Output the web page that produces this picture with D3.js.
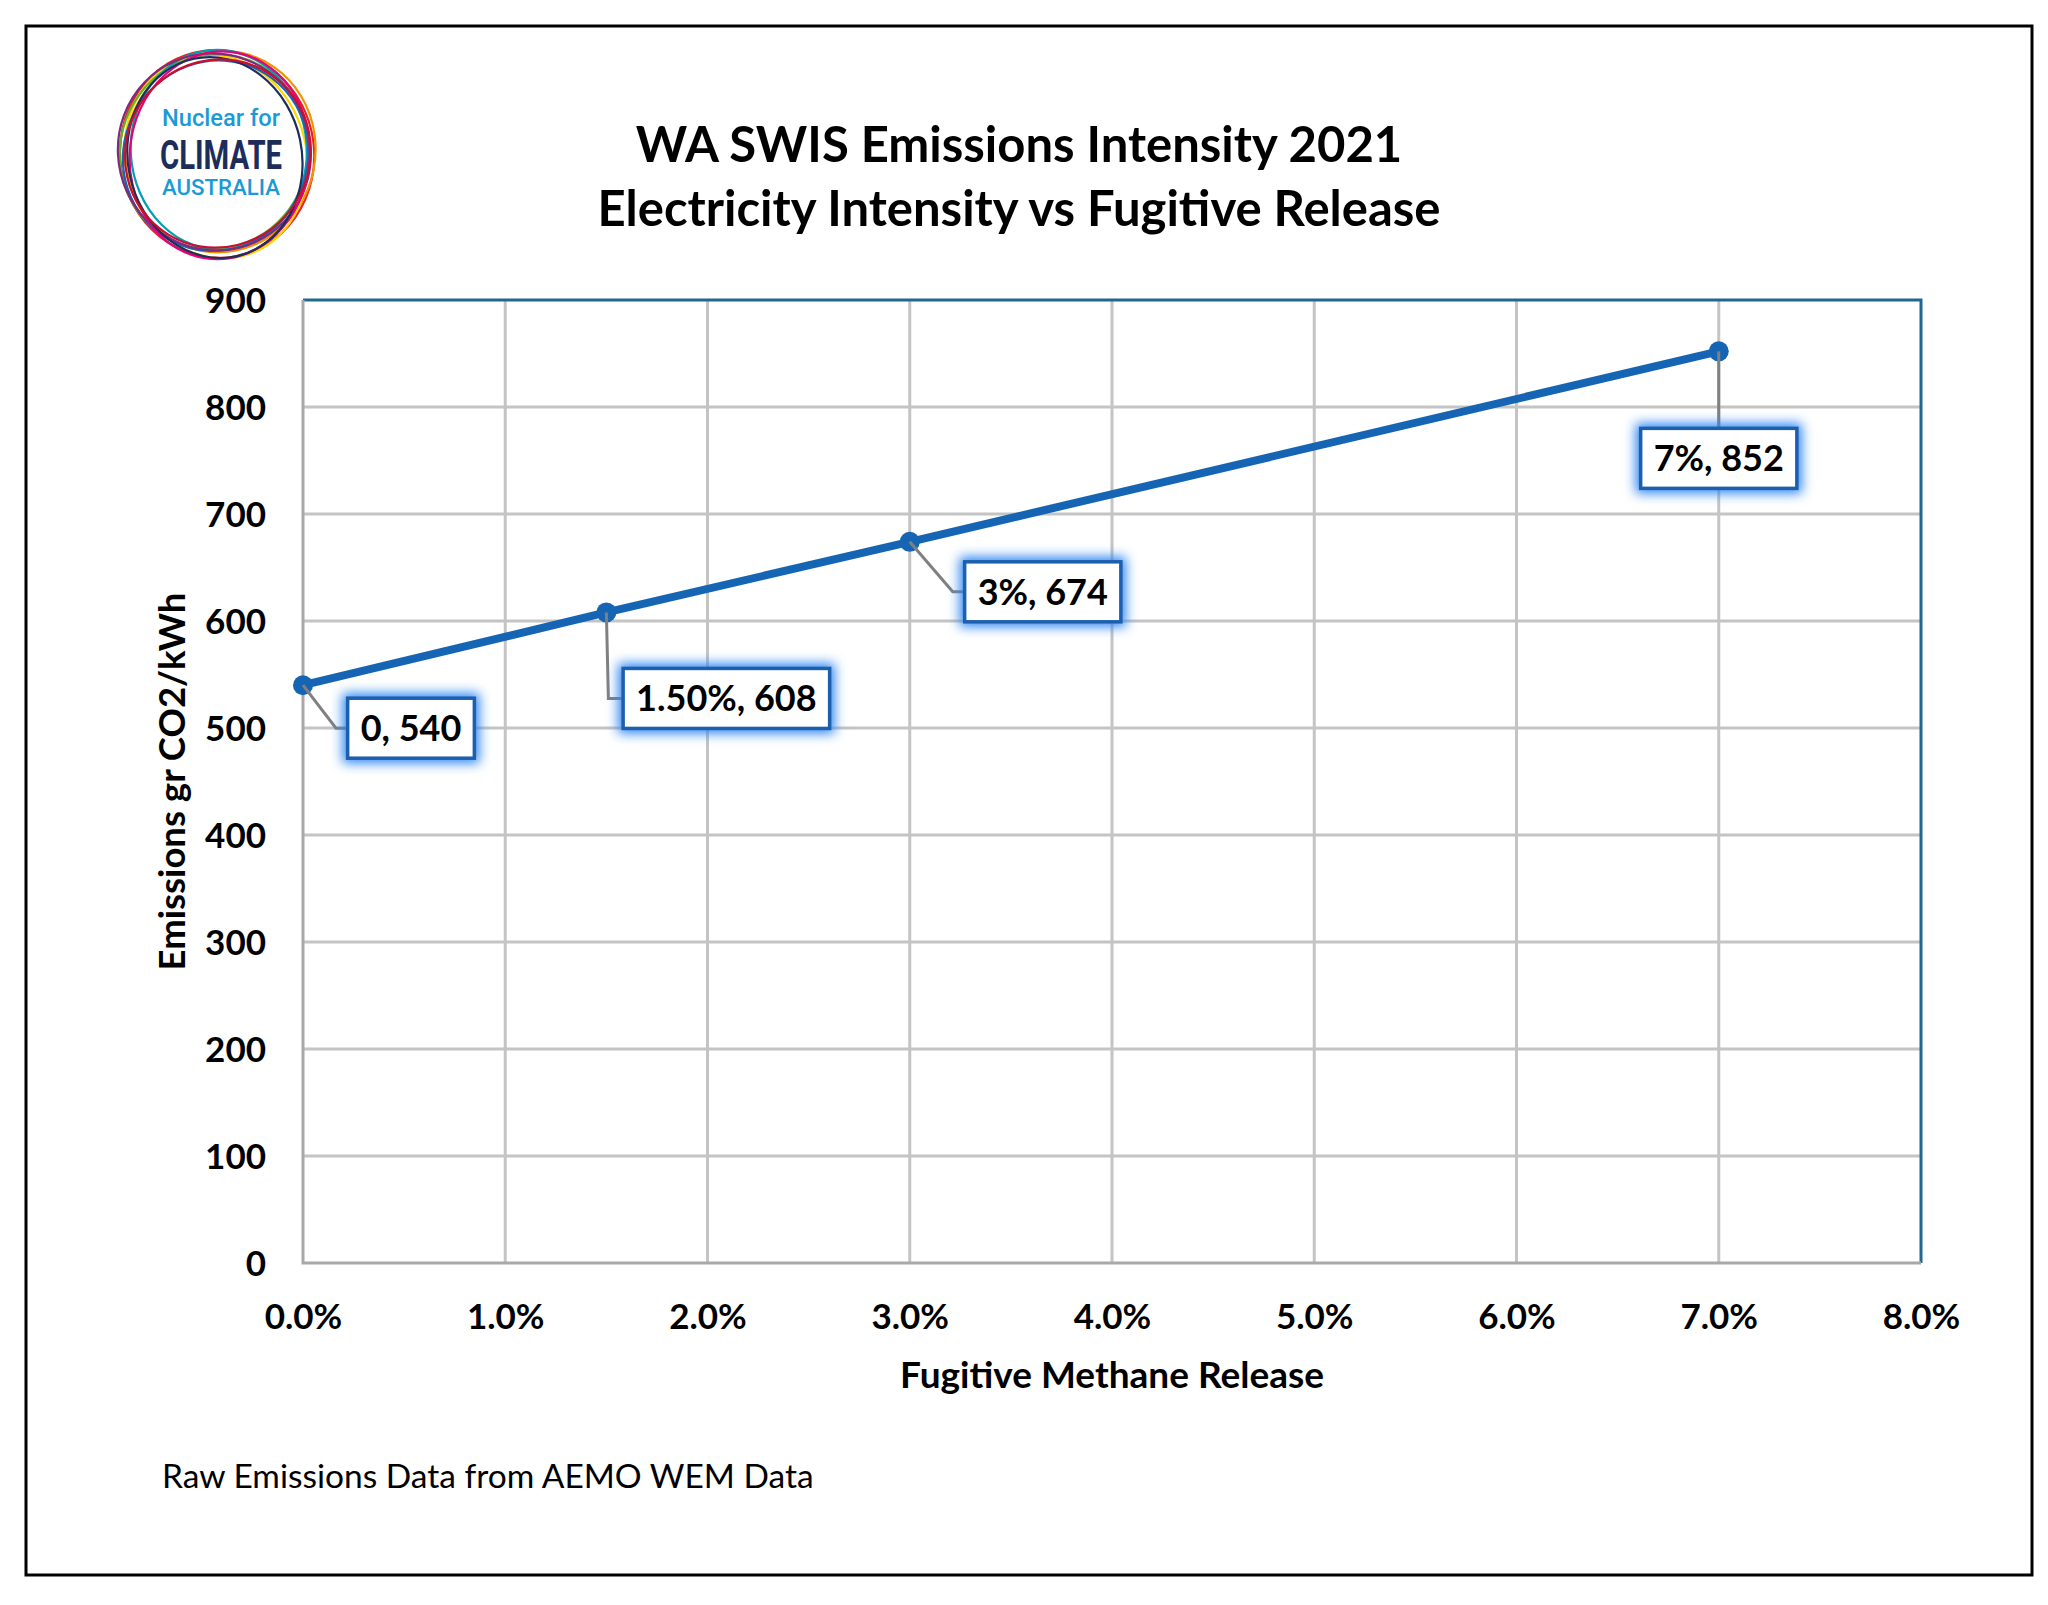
<!DOCTYPE html>
<html>
<head>
<meta charset="utf-8">
<script src="https://cdn.jsdelivr.net/npm/d3@7"></script>
<style>
  html, body { margin:0; padding:0; background:#fff; }
  svg { display:block; font-family: Lato, "Open Sans", sans-serif; }
</style>
</head>
<body>
<div class="main__area"></div>
<script>
// chart values
const releasePct=[0, 1.5, 3, 7];
const emissions=[540, 608, 674, 852];
const pointLabels=["0, 540", "1.50%, 608", "3%, 674", "7%, 852"];
const xTickValues=[0, 1, 2, 3, 4, 5, 6, 7, 8];
const yTickValues=[0, 100, 200, 300, 400, 500, 600, 700, 800, 900];
const titleLines=["WA SWIS Emissions Intensity 2021", "Electricity Intensity vs Fugitive Release"];
const xTitle="Fugitive Methane Release";
const yTitle="Emissions gr CO2/kWh";
const footNote="Raw Emissions Data from AEMO WEM Data";

const width=2048;
const height=1605;
const plot={ left:303, top:300, right:1921, bottom:1263 };

const svgTag=d3.select(".main__area").append("svg")
    .attr("width", width)
    .attr("height", height);

// glow filter for the data labels
const defs=svgTag.append("defs");
defs.append("filter").attr("id", "glow")
    .attr("x", "-40%").attr("y", "-80%").attr("width", "180%").attr("height", "260%")
    .append("feGaussianBlur").attr("stdDeviation", 6);

// page frame
svgTag.append("rect")
    .attr("x", 26).attr("y", 26).attr("width", 2006).attr("height", 1549)
    .attr("fill", "none").attr("stroke", "#000").attr("stroke-width", 3);

drawLogo(217, 153);

// title
svgTag.append("g").selectAll("text")
    .data(titleLines)
    .join("text")
    .attr("x", 1019)
    .attr("y", (d, i) => 162 + i*64)
    .attr("text-anchor", "middle")
    .attr("font-size", 49).attr("font-weight", 700)
    .text(d => d);

const x=d3.scaleLinear().domain([0, 8]).range([plot.left, plot.right]);
const y=d3.scaleLinear().domain([0, 900]).range([plot.bottom, plot.top]);

// grid
const grid=svgTag.append("g").attr("stroke", "#c4c4c4").attr("stroke-width", 3);
grid.selectAll(".vgrid")
    .data(xTickValues.slice(1, -1))
    .join("line")
    .attr("x1", d => x(d)).attr("x2", d => x(d))
    .attr("y1", plot.top).attr("y2", plot.bottom);
grid.selectAll(".hgrid")
    .data(yTickValues.slice(1, -1))
    .join("line")
    .attr("x1", plot.left).attr("x2", plot.right)
    .attr("y1", d => y(d)).attr("y2", d => y(d));

// plot border: blue on top/right, grey axes on left/bottom
svgTag.append("path")
    .attr("d", `M${plot.left},${plot.top}H${plot.right}V${plot.bottom}`)
    .attr("fill", "none").attr("stroke", "#1f6894").attr("stroke-width", 3);
svgTag.append("path")
    .attr("d", `M${plot.left},${plot.top}V${plot.bottom}H${plot.right}`)
    .attr("fill", "none").attr("stroke", "#a8a8a8").attr("stroke-width", 3);

// axes (ticks only used for labels)
const xAxis=svgTag.append("g")
    .attr("transform", `translate(0, ${plot.bottom})`)
    .call(d3.axisBottom(x).tickValues(xTickValues).tickSize(0).tickPadding(41)
        .tickFormat(d => d.toFixed(1) + "%"));
const yAxis=svgTag.append("g")
    .attr("transform", `translate(${plot.left}, 0)`)
    .call(d3.axisLeft(y).tickValues(yTickValues).tickSize(0).tickPadding(37));
[xAxis, yAxis].forEach(axis => {
    axis.select(".domain").remove();
    axis.selectAll("text")
        .attr("font-family", "Lato, sans-serif")
        .attr("font-size", 35).attr("font-weight", 700).attr("fill", "#000");
});
yAxis.selectAll("text").attr("dy", "0.36em");

// axis titles
svgTag.append("text")
    .attr("x", (plot.left + plot.right)/2).attr("y", 1388)
    .attr("text-anchor", "middle")
    .attr("font-size", 37).attr("font-weight", 700)
    .text(xTitle);
svgTag.append("text")
    .attr("transform", `translate(185, ${(plot.top + plot.bottom)/2}) rotate(-90)`)
    .attr("text-anchor", "middle")
    .attr("font-size", 36.5).attr("font-weight", 700)
    .text(yTitle);

// foot note
svgTag.append("text")
    .attr("x", 162).attr("y", 1488)
    .attr("font-size", 33.5)
    .text(footNote);

// series
const points=releasePct.map((d, i) => ({ pct:d, value:emissions[i], label:pointLabels[i] }));
const lineGen=d3.line().x(d => x(d.pct)).y(d => y(d.value));

svgTag.append("path")
    .datum(points)
    .attr("d", lineGen)
    .attr("fill", "none")
    .attr("stroke", "#1565b4").attr("stroke-width", 8)
    .attr("stroke-linejoin", "round");

svgTag.append("g").selectAll("circle")
    .data(points)
    .join("circle")
    .attr("cx", d => x(d.pct)).attr("cy", d => y(d.value))
    .attr("r", 10)
    .attr("fill", "#1565b4");

// data labels: box centre offset and leader elbow relative to point
const labelLayout=[
    { dx:108, dy:43, elbow:[33, 43], attach:"left" },
    { dx:120, dy:86, elbow:[2, 86], attach:"left" },
    { dx:133, dy:50, elbow:[43, 50], attach:"left" },
    { dx:0, dy:107, elbow:[0, 0], attach:"top" }
];
const boxH=60;
const labelG=svgTag.append("g");

points.forEach((p, i) => {
    const px=x(p.pct), py=y(p.value);
    const lay=labelLayout[i];
    const cx=px + lay.dx, cy=py + lay.dy;

    const g=labelG.append("g");
    const txt=g.append("text")
        .attr("x", cx).attr("y", cy)
        .attr("dy", "0.36em")
        .attr("text-anchor", "middle")
        .attr("font-size", 36).attr("font-weight", 700)
        .text(p.label);
    const boxW=txt.node().getComputedTextLength() + 26;
    const bx=cx - boxW/2, by=cy - boxH/2;

    const ax=lay.attach === "left" ? bx : cx;
    const ay=lay.attach === "left" ? cy : by;
    labelG.insert("path", ":first-child")
        .attr("d", `M${px},${py}L${px + lay.elbow[0]},${py + lay.elbow[1]}L${ax},${ay}`)
        .attr("fill", "none").attr("stroke", "#808080").attr("stroke-width", 3);

    g.insert("rect", "text")
        .attr("x", bx - 5).attr("y", by - 5)
        .attr("width", boxW + 10).attr("height", boxH + 10)
        .attr("fill", "#2f86f2")
        .attr("filter", "url(#glow)");
    g.insert("rect", "text")
        .attr("x", bx).attr("y", by)
        .attr("width", boxW).attr("height", boxH)
        .attr("fill", "#fff").attr("stroke", "#1b5fae").attr("stroke-width", 3.5);
});

function drawLogo(cx, cy) {
    const logo=svgTag.append("g").attr("transform", `translate(${cx}, ${cy})`);
    const rings=[
        { c:"#e52421", rx:97, ry:104, r:-8, ox:0, oy:1 },
        { c:"#f39200", rx:95, ry:101, r:12, ox:3, oy:-2 },
        { c:"#ffd500", rx:90, ry:103, r:-18, ox:-2, oy:3 },
        { c:"#6ab023", rx:94, ry:98, r:20, ox:-3, oy:0 },
        { c:"#00a0b0", rx:88, ry:100, r:-4, ox:2, oy:-3 },
        { c:"#1d63b0", rx:92, ry:96, r:26, ox:0, oy:3 },
        { c:"#7d2a82", rx:96, ry:99, r:-24, ox:-2, oy:-2 },
        { c:"#e6007e", rx:90, ry:104, r:6, ox:3, oy:2 },
        { c:"#1b2f5e", rx:87, ry:101, r:-12, ox:-3, oy:4 },
        { c:"#c8102e", rx:92, ry:95, r:32, ox:1, oy:0 }
    ];
    logo.selectAll("ellipse")
        .data(rings)
        .join("ellipse")
        .attr("cx", d => d.ox).attr("cy", d => d.oy)
        .attr("rx", d => d.rx).attr("ry", d => d.ry)
        .attr("transform", d => `rotate(${d.r})`)
        .attr("fill", "none").attr("stroke", d => d.c).attr("stroke-width", 2.2);

    logo.append("text")
        .attr("x", 4).attr("y", -27)
        .attr("text-anchor", "middle")
        .attr("font-family", "Roboto, sans-serif").attr("font-size", 23).attr("font-weight", 500)
        .attr("fill", "#1b9ad6")
        .attr("textLength", 118).attr("lengthAdjust", "spacingAndGlyphs")
        .text("Nuclear for");
    logo.append("text")
        .attr("x", 4).attr("y", 16)
        .attr("text-anchor", "middle")
        .attr("font-family", "Roboto, sans-serif").attr("font-size", 40).attr("font-weight", 700)
        .attr("fill", "#1c2d5c")
        .attr("textLength", 122).attr("lengthAdjust", "spacingAndGlyphs")
        .text("CLIMATE");
    logo.append("text")
        .attr("x", 4).attr("y", 42)
        .attr("text-anchor", "middle")
        .attr("font-family", "Roboto, sans-serif").attr("font-size", 22).attr("font-weight", 500)
        .attr("fill", "#1b9ad6")
        .attr("textLength", 118).attr("lengthAdjust", "spacingAndGlyphs")
        .text("AUSTRALIA");
}
</script>
</body>
</html>
